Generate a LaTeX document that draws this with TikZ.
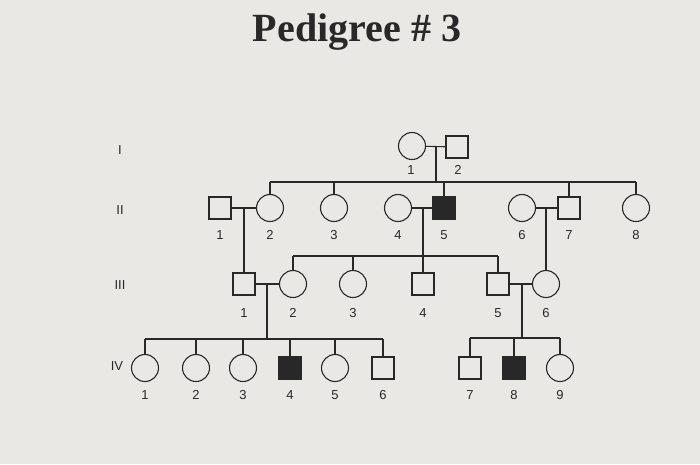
\documentclass[tikz,border=0pt]{standalone}
\usepackage{fontspec}
\setmainfont{Liberation Serif}
\newfontfamily\lab{Liberation Sans}
\definecolor{paper}{RGB}{234,232,229}
\definecolor{ink}{RGB}{40,40,40}
\begin{document}
\begin{tikzpicture}[x=1pt,y=-1pt,line width=1.1pt,draw=ink,
  fem/.style={circle,draw=ink,minimum size=27pt,inner sep=0pt},
  mal/.style={rectangle,draw=ink,minimum size=22pt,inner sep=0pt},
  aff/.style={mal,fill=ink},
  num/.style={font=\lab\fontsize{13}{15}\selectfont,text=ink},
  gen/.style={font=\lab\fontsize{13}{15}\selectfont,text=ink}]
\fill[paper] (0,0) rectangle (700,464);
\useasboundingbox (0,0) rectangle (700,464);
\node[font=\bfseries\fontsize{40}{44}\selectfont,text=ink] (title) at (357,32) {Pedigree \# 3};
\node[gen] (g1) at (120,150) {I};
\node[gen] (g2) at (120,210) {II};
\node[gen] (g3) at (120,285) {III};
\node[gen] (g4) at (117,366) {IV};
% Gen I
\node[fem] (a1) at (412,146) {}; \node[mal] (a2) at (457,147) {};
\node[num] at (411,170) {1}; \node[num] at (458,170) {2};
% Gen II
\node[mal] (b1) at (220,208) {}; \node[fem] (b2) at (270,208) {};
\node[fem] (b3) at (334,208) {}; \node[fem] (b4) at (398,208) {};
\node[aff] (b5) at (444,208) {}; \node[fem] (b6) at (522,208) {};
\node[mal] (b7) at (569,208) {}; \node[fem] (b8) at (636,208) {};
\foreach \x/\n in {220/1,270/2,334/3,398/4,444/5,522/6,569/7,636/8}
  \node[num] at (\x,235) {\n};
% Gen III
\node[mal] (c1) at (244,284) {}; \node[fem] (c2) at (293,284) {};
\node[fem] (c3) at (353,284) {}; \node[mal] (c4) at (423,284) {};
\node[mal] (c5) at (498,284) {}; \node[fem] (c6) at (546,284) {};
\foreach \x/\n in {244/1,293/2,353/3,423/4,498/5,546/6}
  \node[num] at (\x,313) {\n};
% Gen IV
\node[fem] (d1) at (145,368) {}; \node[fem] (d2) at (196,368) {};
\node[fem] (d3) at (243,368) {}; \node[aff] (d4) at (290,368) {};
\node[fem] (d5) at (335,368) {}; \node[mal] (d6) at (383,368) {};
\node[mal] (d7) at (470,368) {}; \node[aff] (d8) at (514,368) {};
\node[fem] (d9) at (560,368) {};
\foreach \x/\n in {145/1,196/2,243/3,290/4,335/5,383/6,470/7,514/8,560/9}
  \node[num] at (\x,395) {\n};
% connectors
\draw (a1) -- (a2);
\coordinate (m1) at (436,147); \coordinate (s1) at (436,182);
\draw (m1) -- (s1);
\draw (b2 |- s1) -- (b8 |- s1);
\foreach \n in {b2,b3,b5,b7,b8} \draw (\n |- s1) -- (\n);
\draw (b1) -- (b2); \draw (b4) -- (b5); \draw (b6) -- (b7);
\draw (c4 |- b4) -- (c4);
\coordinate (s3) at (423,256);
\draw (c2 |- s3) -- (c5 |- s3);
\foreach \n in {c2,c3,c5} \draw (\n |- s3) -- (\n);
\draw (c1 |- b1) -- (c1);
\draw (c6 |- b6) -- (c6);
\draw (c1) -- (c2); \draw (c5) -- (c6);
\coordinate (m4) at (267,284); \coordinate (s4) at (267,339);
\draw (m4) -- (s4);
\draw (d1 |- s4) -- (d6 |- s4);
\foreach \n in {d1,d2,d3,d4,d5,d6} \draw (\n |- s4) -- (\n);
\coordinate (m5) at (522,284); \coordinate (s5) at (522,338);
\draw (m5) -- (s5);
\draw (d7 |- s5) -- (d9 |- s5);
\foreach \n in {d7,d8,d9} \draw (\n |- s5) -- (\n);
\end{tikzpicture}
\end{document}
